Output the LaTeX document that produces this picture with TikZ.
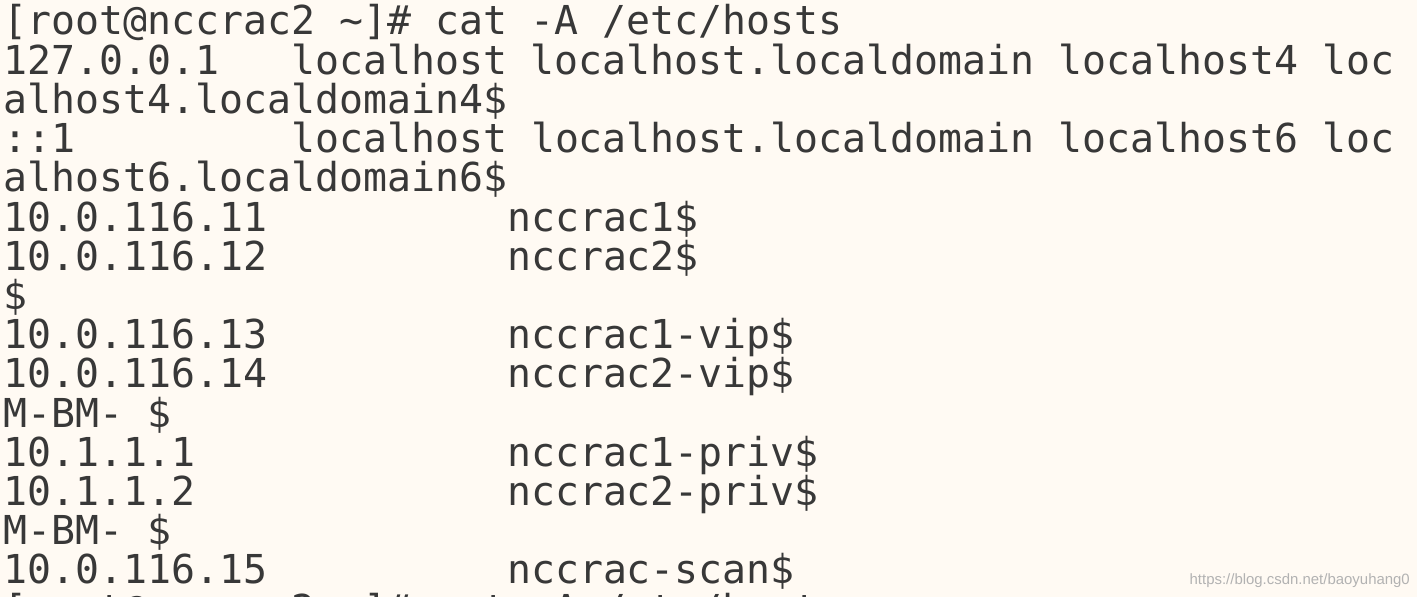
\documentclass[tikz,border=0pt]{standalone}
\usepackage{fontspec}
\setmonofont{DejaVu Sans Mono}
\setsansfont{Liberation Sans}
\begin{document}
\begin{tikzpicture}[x=1bp,y=1bp,
  ln/.style={anchor=base west,inner sep=0pt,font=\ttfamily\fontsize{40}{40}\selectfont,text=black!78}]
\useasboundingbox (0,0) rectangle (1417,-597);
\fill[yellow!6!orange!4!white] (0,0) rectangle (1417,-597);
\clip (0,0) rectangle (1417,-597);
\def\L#1#2{\node[ln] (l#1) at (3,{-35-39.2*(#1-1)}) {#2};}
\L{1}{[root@nccrac2~\string~]\#~cat~-A~/etc/hosts}
\L{2}{127.0.0.1~~~localhost~localhost.localdomain~localhost4~loc}
\L{3}{alhost4.localdomain4\$}
\L{4}{::1~~~~~~~~~localhost~localhost.localdomain~localhost6~loc}
\L{5}{alhost6.localdomain6\$}
\L{6}{10.0.116.11~~~~~~~~~~nccrac1\$}
\L{7}{10.0.116.12~~~~~~~~~~nccrac2\$}
\L{8}{\$}
\L{9}{10.0.116.13~~~~~~~~~~nccrac1-vip\$}
\L{10}{10.0.116.14~~~~~~~~~~nccrac2-vip\$}
\L{11}{M-BM-~\$}
\L{12}{10.1.1.1~~~~~~~~~~~~~nccrac1-priv\$}
\L{13}{10.1.1.2~~~~~~~~~~~~~nccrac2-priv\$}
\L{14}{M-BM-~\$}
\L{15}{10.0.116.15~~~~~~~~~~nccrac-scan\$}
\L{16}{[root@nccrac2~\string~]\#~cat~-A~/etc/hosts}
\node[anchor=base east,inner sep=0pt,font=\sffamily\fontsize{15}{15}\selectfont,text=black!30] (wm) at (1410,-584) {https://blog.csdn.net/baoyuhang0};
\end{tikzpicture}
\end{document}
